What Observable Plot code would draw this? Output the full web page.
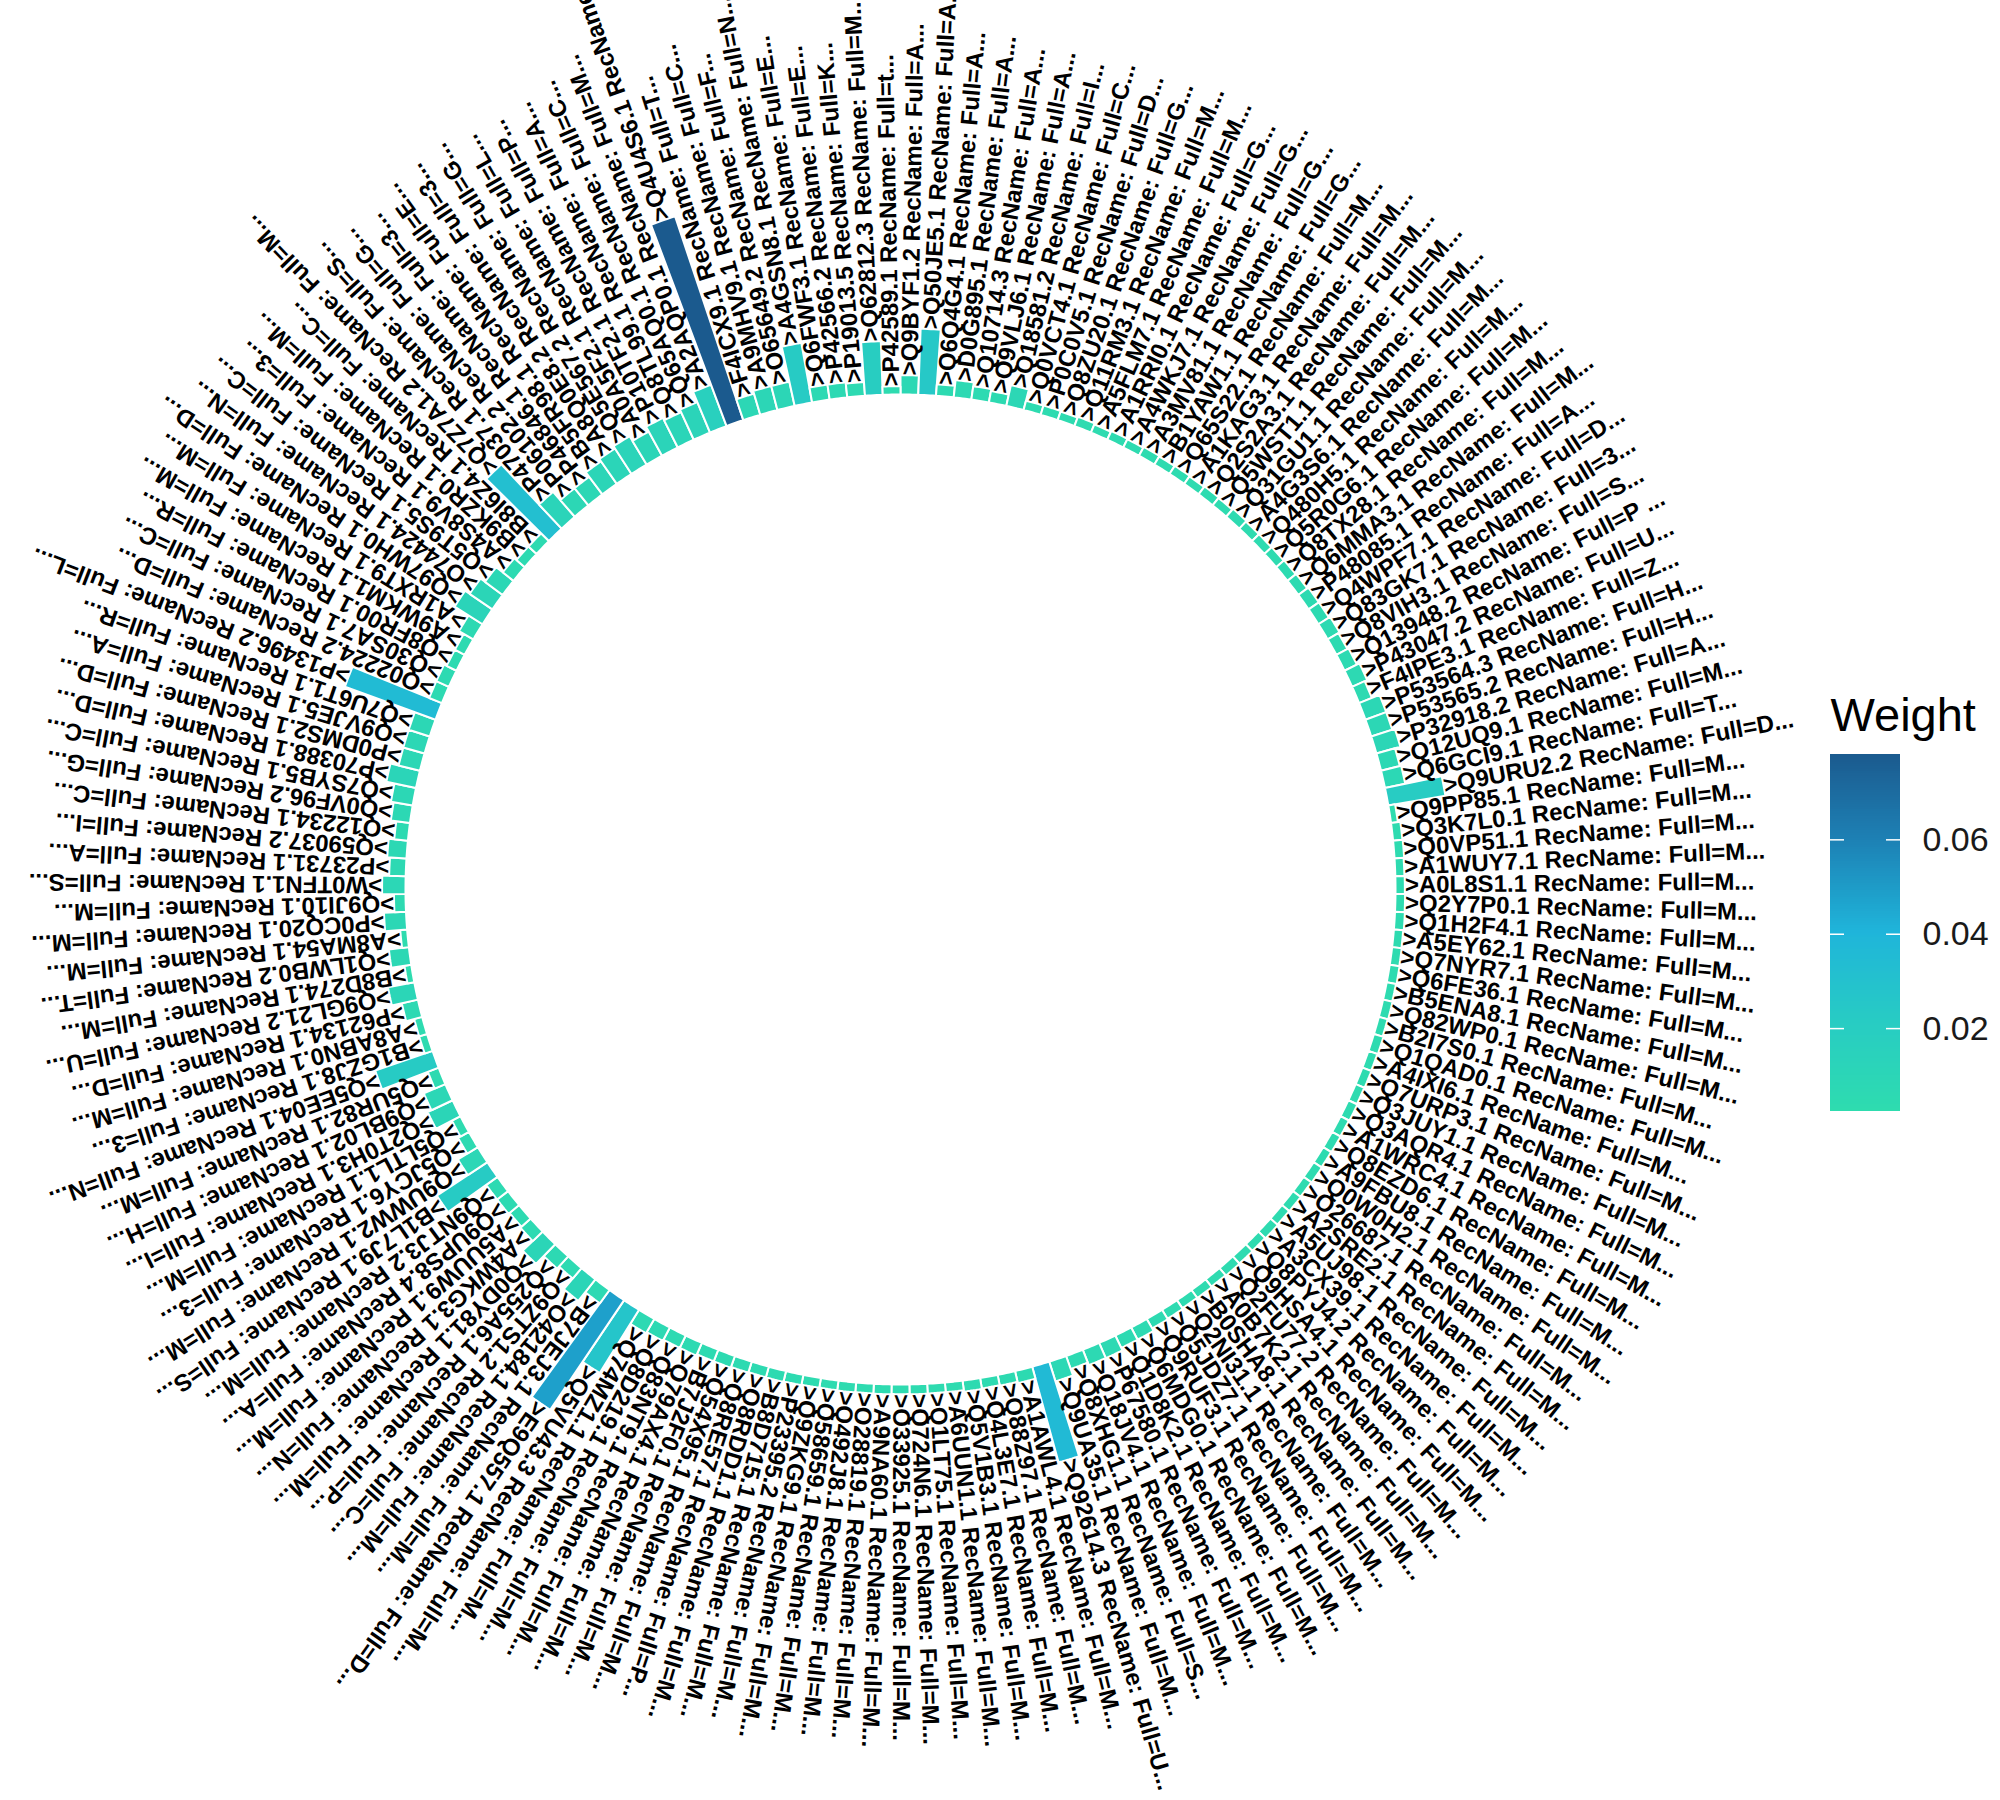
<!DOCTYPE html>
<html>
<head>
<meta charset="utf-8">
<script src="https://cdn.jsdelivr.net/npm/d3@7"></script>
<script src="https://cdn.jsdelivr.net/npm/@observablehq/plot@0.6"></script>
<style>
  body { margin: 0; background: #ffffff; }
  #wrap { position: relative; width: 2000px; height: 1800px; overflow: hidden; background: #ffffff; }
  #legend { position: absolute; left: 1780px; top: 680px; }
  #chart { position: absolute; left: 0; top: 0; }
</style>
</head>
<body>
<div id="wrap"><div id="chart"></div><div id="legend"></div></div>
<script>
// ---------- data (clockwise from 12 o'clock) ----------
const ids = [
  "Q9BYF1.2","Q50JE5.1","Q6Q4G4.1","D0G895.1","Q10714.3","Q9VLJ6.1","Q18581.2","Q0VCT4.1","P0C0V5.1","Q8ZU20.1",
  "Q11RM3.1","A5FLM7.1","A1RRI0.1","A4WKJ7.1","A3MV81.1","B1YAW1.1","Q65S22.1","A1KAG3.1","Q2S2A3.1","Q5WST1.1",
  "Q31GU1.1","A4G3S6.1",
  "Q480H5.1","Q5R0G6.1","Q8TX28.1","Q6MMA3.1","P48085.1","Q4WPF7.1","Q83GK7.1","Q8VIH3.1","Q13948.2","P43047.2",
  "F4IPE3.1","P53564.3","P53565.2","P32918.2","Q12UQ9.1","Q6GCI9.1","Q9URU2.2",
  "Q9PP85.1","Q3K7L0.1","Q0VP51.1","A1WUY7.1","A0L8S1.1","Q2Y7P0.1","Q1H2F4.1","A5EY62.1","Q7NYR7.1","Q6FE36.1",
  "B5ENA8.1","Q82WP0.1","B2I7S0.1","Q1QAD0.1","A4IXI6.1","Q7URP3.1","Q3JUY1.1","Q3AQR4.1","A1WRC4.1","Q8EZD6.1",
  "A9FBU8.1","Q0W0H2.1","O26687.1","A2SRE2.1","A5UJ98.1","A3CX39.1","Q8PYJ4.2","Q9HSA4.1","Q2FU77.2","A0B7K2.1",
  "B0SHA8.1","Q2NI31.1","Q5JDZ7.1","Q9RUF3.1","Q6MDG0.1","Q1D8K2.1","P67580.1","Q18JV4.1","Q8XHG1.1","Q9UA35.1",
  "Q92614.3",
  "A1AWL4.1","Q88Z97.1","Q4L3E7.1","Q5V1B3.1","A6UUN1.1","Q1LT75.1","Q724N6.1","O33925.1","A9NA60.1","O28819.1",
  "Q492J8.1","Q58659.1","Q9ZKG9.1","P23395.2","B8D715.1","Q8RDD1.1","Q8RE57.1","Q54X95.1","B7J2F0.1","Q79AX4.1",
  "Q83NT9.1","Q8D219.1","Q74MZ1.1","Q5VU43.3","E9Q557.1",
  "B7JEJ3.1","O42184.1","Q9ZTS1.2","Q255A6.1","Q0DY81.1","A4WKG3.1","A5UUW9.1","Q9UPS8.4","Q9NTJ3.2","B1L7J9.1",
  "Q9UWW2.1","Q5JCY6.1","Q5LTL1.1","Q2T0H3.1","Q9BL02.1","Q5UR82.1","Q5EE04.1","B1GZJ8.1","A8ABN0.1","P62134.1",
  "Q9GL21.2","B8D274.1","Q1LWB0.2","A8MA54.1","P0CQ20.1","Q9JI10.1","W0TFN1.1","P23731.1","Q59037.2","Q12234.1",
  "Q0VF96.2",
  "Q7SYB5.1","P70388.1","P0DMS2.1","Q9VJE5.1","Q7U6T1.1","P13496.2","Q02224.2","Q30SA7.1","Q8FR00.1","A9WKM1.1",
  "A1RXT9.1","Q97WH0.1","O74424.1","Q5T9S5.1","A4S8V9.1","B9KZR0.1",
  "B8I6Z4.1","Q7Z7A1.2","P47037.1","P06102.2","P46846.1","B5FR98.1","A8Q0E8.2","Q5E567.2","A0A5F2.1","P10TF2.1",
  "Q8TL99.1","Q65AQ0.1","A2AQP0.1",
  "Q4U4S6.1","F4ICX9.1","A9MHV9.1","O65649.2","A4GSN8.1","Q6FWF3.1","P42566.2","P19013.5","Q62812.3","P42589.1"
];

// first letter(s) of the truncated "Full=" name
const fullNames = [
  "A","A","A","A","A","A","I","C","D","G",
  "M","M","G","G","G","G","M","M","M","M",
  "M","M",
  "M","M","M","M","A","D","3","S","P ","U",
  "Z","H","H","A","M","T","D",
  "M","M","M","M","M","M","M","M","M","M",
  "M","M","M","M","M","M","M","M","M","M",
  "M","M","M","M","M","M","M","M","M","M",
  "M","M","M","M","M","M","M","M","S","M",
  "U",
  "M","M","M","M","M","M","M","M","M","M",
  "M","M","M","M","M","M","P","M","M","M",
  "M","M","M","M","D",
  "M","M","C","P","M","N","M","A","M","S",
  "M","3","M","I","H","M","N","3","M","D",
  "U","M","T","M","M","M","S","A","I","C",
  "G",
  "C","D","D","A","R","L","D","C","R","M",
  "M","D","N","C","3","M",
  "C","M","S","G","3","E","3","G","L","P",
  "A","C","M",
  "F","T","C","F","N","E","E","K","M","t"
];

const weights = [
  0.0070,0.0240,0.0042,0.0063,0.0049,0.0042,0.0077,0.0035,0.0035,0.0033,
  0.0036,0.0032,0.0035,0.0033,0.0036,0.0034,0.0035,0.0033,0.0036,0.0034,
  0.0038,0.0035,
  0.0035,0.0036,0.0038,0.0040,0.0045,0.0045,0.0050,0.0045,0.0050,0.0060,
  0.0050,0.0080,0.0080,0.0090,0.0070,0.0075,0.0210,
  0.0025,0.0034,0.0035,0.0033,0.0034,0.0035,0.0036,0.0034,0.0035,0.0036,
  0.0034,0.0035,0.0033,0.0036,0.0034,0.0035,0.0034,0.0036,0.0034,0.0035,
  0.0034,0.0036,0.0034,0.0035,0.0034,0.0036,0.0034,0.0035,0.0036,0.0034,
  0.0036,0.0035,0.0038,0.0040,0.0050,0.0050,0.0060,0.0060,0.0050,0.0075,
  0.0360,
  0.0045,0.0040,0.0038,0.0040,0.0035,0.0035,0.0036,0.0035,0.0036,0.0035,
  0.0036,0.0035,0.0036,0.0038,0.0040,0.0040,0.0042,0.0045,0.0045,0.0050,
  0.0050,0.0055,0.0060,0.0270,0.0480,
  0.0060,0.0100,0.0050,0.0060,0.0100,0.0050,0.0045,0.0050,0.0050,0.0220,
  0.0085,0.0045,0.0035,0.0100,0.0085,0.0042,0.0220,0.0030,0.0030,0.0060,
  0.0097,0.0025,0.0073,0.0025,0.0080,0.0042,0.0085,0.0060,0.0070,0.0050,
  0.0070,
  0.0080,0.0110,0.0080,0.0080,0.0080,0.0350,0.0050,0.0050,0.0040,0.0040,
  0.0060,0.0120,0.0100,0.0080,0.0050,0.0040,
  0.0040,0.0320,0.0120,0.0080,0.0080,0.0100,0.0110,0.0120,0.0100,0.0120,
  0.0110,0.0120,0.0160,
  0.0780,0.0080,0.0090,0.0090,0.0220,0.0055,0.0055,0.0050,0.0195,0.0030
];

const legendTitle = "Weight";
const legendTicks = [0.02, 0.04, 0.06];

// ---------- derived ----------
const labels = ids.map((id, i) => `>${id} RecName: Full=${fullNames[i]}...`);
const n = ids.length;
const step = 360 / n;
const W = 2000, H = 1800;
const cx = 900, cy = 889;                 // centre of the ring on the page
const wMin = d3.min(weights), wMax = d3.max(weights);
const rScale = d3.scaleLinear().domain([0, wMax]).range([495, 710]); // radial scale

const colorOpts = {
  type: "linear",
  domain: [0.0022, 0.02, 0.04, 0.06, 0.078],
  range: ["#2edcaf", "#28cdc2", "#1fb5da", "#1d80b4", "#1b5a8e"],
  interpolate: "rgb"
};

// wedge polygons
const wedgeRows = [];
weights.forEach((w, i) => {
  const a0 = i * step, a1 = (i + 1) * step, k = 6;
  const pts = [];
  for (let j = 0; j <= k; j++) pts.push([rScale(0), a0 + (a1 - a0) * j / k]);
  for (let j = k; j >= 0; j--) pts.push([rScale(w), a0 + (a1 - a0) * j / k]);
  for (const [r, a] of pts) {
    const t = a * Math.PI / 180;
    wedgeRows.push({id: ids[i], w, x: r * Math.sin(t), y: -r * Math.cos(t)});
  }
});

// labels at the tip of each bar, radial
const labelRows = weights.map((w, i) => {
  const a = (i + 0.5) * step, t = a * Math.PI / 180, r = rScale(w);
  return {text: labels[i], x: r * Math.sin(t), y: -r * Math.cos(t), rot: a - 90};
});

const chart = Plot.plot({
  width: W, height: H,
  marginTop: 0, marginRight: 0, marginBottom: 0, marginLeft: 0,
  x: {domain: [-cx, W - cx], range: [0, W], axis: null},
  y: {domain: [-cy, H - cy], range: [0, H], axis: null},
  color: colorOpts,
  style: {fontFamily: "'Liberation Sans', Arial, Helvetica, sans-serif", background: "white"},
  marks: [
    Plot.line(wedgeRows, {x: "x", y: "y", z: "id", fill: "w", stroke: "white", strokeWidth: 2,
      strokeLinejoin: "miter", curve: "linear-closed"}),
    Plot.text(labelRows, {x: "x", y: "y", text: "text", rotate: "rot", textAnchor: "start",
      lineAnchor: "middle", fontSize: 24, fontWeight: "bold", fill: "black"})
  ]
});
document.getElementById("chart").appendChild(chart);

// ---------- vertical colour bar legend ----------
const nSlices = 150;
const slices = d3.range(nSlices).map(j => wMin + (wMax - wMin) * j / nSlices);
const sliceH = (wMax - wMin) / nSlices;
const legend = Plot.plot({
  width: 220, height: 500,
  marginTop: 0, marginRight: 0, marginBottom: 0, marginLeft: 0,
  x: {domain: [0, 1], range: [50, 120], axis: null},
  y: {domain: [wMin, wMax], range: [430.7, 74.4], axis: null},
  color: colorOpts,
  style: {fontFamily: "'Liberation Sans', Arial, Helvetica, sans-serif", background: "transparent", overflow: "visible"},
  marks: [
    Plot.rect(slices, {x1: 0, x2: 1, y1: d => d, y2: d => Math.min(wMax, d + sliceH * 2), fill: d => d,
      shapeRendering: "crispEdges"}),
    Plot.ruleY(legendTicks, {x1: 0, x2: 0.2, stroke: "white", strokeWidth: 1.5}),
    Plot.ruleY(legendTicks, {x1: 0.8, x2: 1, stroke: "white", strokeWidth: 1.5}),
    Plot.text(legendTicks, {x: 1, y: d => d, text: d => d.toFixed(2), textAnchor: "start", dx: 22,
      fontSize: 34, fill: "#1a1a1a"}),
    Plot.text([legendTitle], {frameAnchor: "top-left", textAnchor: "start", lineAnchor: "top",
      dx: 50, dy: 17, fontSize: 47, fill: "black"})
  ]
});
document.getElementById("legend").appendChild(legend);
</script>
</body>
</html>
